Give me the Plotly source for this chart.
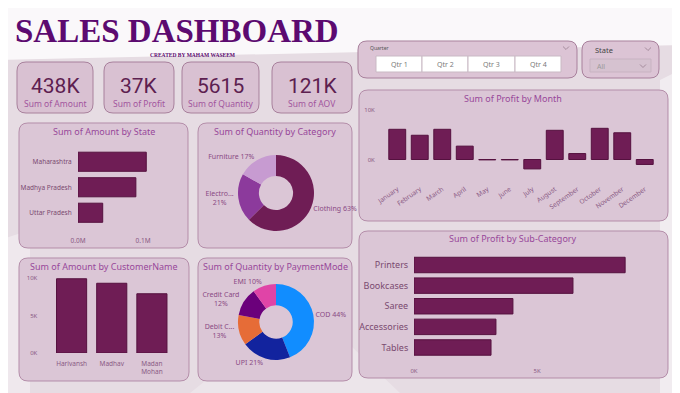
import plotly.graph_objects as go

# the page adds an 8px body margin, so the figure is sized to fill the rest of the window
OX, OY = 8, 8
W, H = 680 - OX, 393 - OY

# ---------------- data ----------------
kpi_values = ["438K", "37K", "5615", "121K"]
kpi_labels = ["Sum of Amount", "Sum of Profit", "Sum of Quantity", "Sum of AOV"]

states = ["Maharashtra", "Madhya Pradesh", "Uttar Pradesh"]
state_amount = [105000, 89000, 38000]

categories = ["Clothing", "Electronics", "Furniture"]
category_qty = [3516, 1154, 945]
category_text = ["Clothing", "Electro...", "Furniture"]

customers = ["Harivansh", "Madhav", "Madan Mohan"]
customer_amount = [9900, 9300, 7900]

payment_modes = ["COD", "UPI", "Debit Card", "Credit Card", "EMI"]
payment_qty = [2470, 1179, 730, 674, 562]
payment_text = ["COD", "UPI", "Debit C...", "Credit Card", "EMI"]

months = ["January", "February", "March", "April", "May", "June", "July",
          "August", "September", "October", "November", "December"]
month_profit = [6100, 4900, 6100, 2700, -80, -80, -1900, 5900, 1200, 6300, 5400, -1000]

subcats = ["Printers", "Bookcases", "Saree", "Accessories", "Tables"]
subcat_profit = [8580, 6460, 4020, 3330, 3130]

quarters = ["Qtr 1", "Qtr 2", "Qtr 3", "Qtr 4"]

# ---------------- style ----------------
BAR = "#6f1d55"
BAR_LINE = "#55113f"
TITLE_C = "#98489a"
TICK_C = "#8a5a84"
PANEL_FILL = "#dbc6d6"
PANEL_LINE = "#b48da9"
FONT = "Noto Sans"


def X(px):
    return (px - OX) / W


def Y(py):
    return 1 - (py - OY) / H


def rrect_path(x0, y0, x1, y1, r):
    pts = [
        ("M", [(x0 + r, y0)]), ("L", [(x1 - r, y0)]), ("Q", [(x1, y0), (x1, y0 + r)]),
        ("L", [(x1, y1 - r)]), ("Q", [(x1, y1), (x1 - r, y1)]), ("L", [(x0 + r, y1)]),
        ("Q", [(x0, y1), (x0, y1 - r)]), ("L", [(x0, y0 + r)]), ("Q", [(x0, y0), (x0 + r, y0)]),
    ]
    s = ""
    for cmd, ps in pts:
        s += cmd + " " + " ".join(f"{X(px):.5f},{Y(py):.5f}" for px, py in ps) + " "
    return s + "Z"


shapes = []
annotations = []


def panel(x0, y0, x1, y1, r=9, fill=PANEL_FILL, line=PANEL_LINE, lw=1):
    shapes.append(dict(type="path", xref="paper", yref="paper", path=rrect_path(x0, y0, x1, y1, r),
                       fillcolor=fill, line=dict(color=line, width=lw), layer="below"))


def poly(points, fill):
    s = "M " + " L ".join(f"{X(a):.5f},{Y(b):.5f}" for a, b in points) + " Z"
    shapes.append(dict(type="path", xref="paper", yref="paper", path=s,
                       fillcolor=fill, line=dict(width=0), layer="below"))


def text(x, y, t, size, color, xanchor="center", family=FONT, yanchor="middle"):
    annotations.append(dict(x=X(x), y=Y(y), xref="paper", yref="paper", text=t, showarrow=False,
                            xanchor=xanchor, yanchor=yanchor,
                            font=dict(size=size, color=color, family=family)))


def rect(x0, y0, x1, y1, fill, line, lw=1):
    shapes.append(dict(type="rect", xref="paper", yref="paper", x0=X(x0), x1=X(x1), y0=Y(y1), y1=Y(y0),
                       fillcolor=fill, line=dict(color=line, width=lw), layer="below"))


def chevron(cx, cy, s, color):
    p = f"M {X(cx - s):.5f},{Y(cy - s / 2):.5f} L {X(cx):.5f},{Y(cy + s / 2):.5f} L {X(cx + s):.5f},{Y(cy - s / 2):.5f}"
    shapes.append(dict(type="path", xref="paper", yref="paper", path=p, line=dict(color=color, width=1)))


# background: light top band and faint hexagon facets
poly([(0, 0), (680, 0), (680, 45), (0, 60)], "rgba(255,255,255,0.8)")
poly([(190, 393), (250, 345), (350, 345), (400, 393)], "rgba(255,255,255,0.25)")
poly([(0, 240), (30, 230), (30, 393), (0, 393)], "rgba(255,255,255,0.35)")
poly([(660, 80), (680, 70), (680, 393), (660, 393)], "rgba(255,255,255,0.45)")

# ---------------- header ----------------
text(177, 31, "<b>SALES DASHBOARD</b>", 33, "#5c0a70", family="Liberation Serif")
text(193, 55, "<b>CREATED BY MAHAM WASEEM</b>", 5.5, "#5c0a70", family="Liberation Serif")

kpi_boxes = [(17, 93), (104, 174), (182, 259), (272, 352)]
for (a, b), v, lab in zip(kpi_boxes, kpi_values, kpi_labels):
    panel(a, 62, b, 113, r=9, fill="#d9c1d2", line="#a8809c")
    text((a + b) / 2, 86, v, 21, "#5d2050", family="Roboto")
    text((a + b) / 2, 104, lab, 8.5, "#a2559e")

# slicers
panel(358, 41, 577, 78, r=9, fill="#dcc4d5", line="#a8809c")
text(368, 48, "Quarter", 5, "#555555", xanchor="left")
chevron(566, 48, 3, "#a58c9d")
qx = [(376, 422), (422, 468), (468, 515), (515, 561)]
for (a, b), q in zip(qx, quarters):
    rect(a, 56, b, 72, "#ffffff", "#c9b9c4")
    text((a + b) / 2, 64, q, 7, "#7a7a7a")
panel(582, 41, 659, 78, r=9, fill="#dcc4d5", line="#a8809c")
text(593, 50, "State", 7.5, "#444444", xanchor="left")
chevron(648, 49, 3, "#a58c9d")
rect(590, 59, 651, 72, "#d6c2d0", "#c8b3c2")
text(595, 66, "All", 7, "#9a9a9a", xanchor="left")
chevron(643, 66, 3, "#a58c9d")

# chart panels
panel(19, 123, 188, 248)
text(104, 131, "Sum of Amount by State", 9, TITLE_C)
panel(198, 123, 352, 248)
text(275, 131, "Sum of Quantity by Category", 9, TITLE_C)
panel(19, 258, 189, 381)
text(104, 266, "Sum of Amount by CustomerName", 9, TITLE_C)
panel(198, 258, 352, 381)
text(275, 266, "Sum of Quantity by PaymentMode", 9, TITLE_C)
panel(359, 90, 668, 221)
text(513, 99, "Sum of Profit by Month", 9, TITLE_C)
panel(359, 231, 668, 378)
text(513, 238, "Sum of Profit by Sub-Category", 9, TITLE_C)

fig = go.Figure()

bar_style = dict(marker=dict(color=BAR, line=dict(color=BAR_LINE, width=1)), showlegend=False,
                 hoverinfo="skip")

fig.add_trace(go.Bar(x=state_amount, y=states, orientation="h", xaxis="x", yaxis="y", **bar_style))
fig.add_trace(go.Bar(x=customers, y=customer_amount, xaxis="x2", yaxis="y2", **bar_style))
fig.add_trace(go.Bar(x=months, y=month_profit, xaxis="x3", yaxis="y3", **bar_style))
fig.add_trace(go.Bar(x=subcat_profit, y=subcats, orientation="h", xaxis="x4", yaxis="y4", **bar_style))

pie_font = dict(size=7, color="#8a4a84", family=FONT)
fig.add_trace(go.Pie(
    labels=categories, values=category_qty, text=category_text, hole=0.45, sort=False,
    direction="clockwise", rotation=0, textposition="outside", automargin=False,
    texttemplate=["%{text} %{percent:.0%}", "%{text}<br>%{percent:.0%}", "%{text} %{percent:.0%}"],
    marker=dict(colors=["#6f1d55", "#8c3a9c", "#c79bd1"], line=dict(width=0)),
    domain=dict(x=[X(238), X(314)], y=[Y(231), Y(155)]), textfont=pie_font, showlegend=False,
    hoverinfo="skip"))
fig.add_trace(go.Pie(
    labels=payment_modes, values=payment_qty, text=payment_text, hole=0.44, sort=False,
    direction="clockwise", rotation=0, textposition="outside", automargin=False,
    texttemplate=["%{text} %{percent:.0%}", "%{text} %{percent:.0%}", "%{text}<br>%{percent:.0%}",
                  "%{text}<br>%{percent:.0%}", "%{text} %{percent:.0%}"],
    marker=dict(colors=["#118dff", "#12239e", "#e66c37", "#6b007b", "#e044a7"], line=dict(width=0)),
    domain=dict(x=[X(238), X(314)], y=[Y(360), Y(284)]), textfont=pie_font, showlegend=False,
    hoverinfo="skip"))

ax_common = dict(showgrid=False, zeroline=False, showline=False, ticks="outside",
                 tickcolor="rgba(0,0,0,0)", fixedrange=True, automargin=False)

fig.update_layout(
    template="none",
    width=W, height=H, autosize=False, margin=dict(l=0, r=0, t=0, b=0, pad=0),
    paper_bgcolor="#e6dce3", plot_bgcolor="rgba(0,0,0,0)",
    bargap=0.25, font=dict(family=FONT, color=TICK_C),
    shapes=shapes, annotations=annotations,
    xaxis=dict(domain=[X(78), X(178)], range=[0, 153800], tickvals=[0, 100000],
               ticktext=["0.0M", "0.1M"], ticklen=9, tickfont=dict(size=6.5, color=TICK_C),
               anchor="y", **ax_common),
    yaxis=dict(domain=[Y(225.5), Y(149)], autorange="reversed", ticklen=4,
               tickfont=dict(size=6.5, color="#7a4a70"), anchor="x", **ax_common),
    xaxis2=dict(domain=[X(51.5), X(172)], tickvals=customers,
                ticktext=[c.replace(" ", "<br>") for c in customers], ticklen=4,
                tickfont=dict(size=6.5, color=TICK_C), anchor="y2", **ax_common),
    yaxis2=dict(domain=[Y(353), Y(273)], range=[0, 10667], tickvals=[0, 5000, 10000],
                ticktext=["0K", "5K", "10K"], ticklen=12, tickfont=dict(size=6, color=TICK_C),
                anchor="x2", **ax_common),
    xaxis3=dict(domain=[X(386), X(656)], tickangle=-35, ticklen=2,
                tickfont=dict(size=6.5, color=TICK_C), anchor="y3", **ax_common),
    yaxis3=dict(domain=[Y(180), Y(110)], range=[-4140, 10000], tickvals=[0, 10000],
                ticktext=["0K", "10K"], ticklen=9, tickfont=dict(size=6, color=TICK_C),
                anchor="x3", **ax_common),
    xaxis4=dict(domain=[X(414), X(650)], range=[0, 9590], tickvals=[0, 5000],
                ticktext=["0K", "5K"], ticklen=7, tickfont=dict(size=6, color=TICK_C),
                anchor="y4", **ax_common),
    yaxis4=dict(domain=[Y(357.8), Y(254.7)], autorange="reversed", ticklen=3,
                tickfont=dict(size=9, color="#7a4a70"), anchor="x4", **ax_common),
)

fig.write_html("out.html")
